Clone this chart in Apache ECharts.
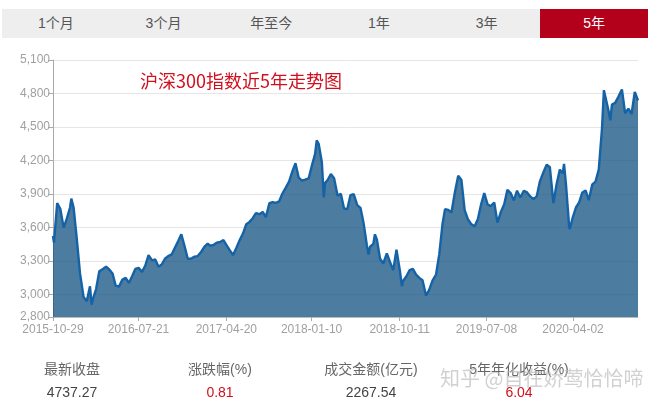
<!DOCTYPE html>
<html><head><meta charset="utf-8">
<script src="https://cdn.jsdelivr.net/npm/echarts@6/dist/echarts.min.js"></script>
<style>
html,body{margin:0;padding:0;background:#fff;width:652px;height:406px;overflow:hidden;font-family:"Liberation Sans","Noto Sans CJK SC",sans-serif;}
#chart{position:absolute;left:0;top:0;width:652px;height:406px;}
#tabs{position:absolute;left:2px;top:9px;width:646px;height:29px;background:#eeeeee;display:flex;z-index:2;}
.tab{flex:1;text-align:center;line-height:29px;font-size:14px;color:#555;}
.tab.on{background:#b3001b;color:#fff;}
.stat{position:absolute;width:150px;text-align:center;font-size:14px;line-height:18px;z-index:2;}
.lab{color:#666;top:360px;}
.val{color:#444;top:383px;}
.red{color:#d0101e;}
#wm{position:absolute;left:440px;top:366px;font-size:20px;line-height:24px;color:rgba(190,190,190,0.7);z-index:3;white-space:nowrap;font-family:"Noto Sans CJK SC",sans-serif;}
</style></head>
<body>
<div id="chart"></div>
<div id="tabs"></div>
<div id="stats"></div>
<div id="wm">知乎 @自在娇莺恰恰啼</div>
<script>
const tabNames = ['1个月','3个月','年至今','1年','3年','5年'];
const activeTab = '5年';
const statLabels = ['最新收盘','涨跌幅(%)','成交金额(亿元)','5年年化收益(%)'];
const statValues = ['4737.27','0.81','2267.54','6.04'];
const statRed = [false,true,false,true];
const statCenters = [72,220,371,519];
const chartTitle = '沪深300指数近5年走势图';
const xTickLabels = ['2015-10-29','2016-07-21','2017-04-20','2018-01-10','2018-10-11','2019-07-08','2020-04-02'];
const yTickValues = [2800,3000,3300,3600,3900,4200,4500,4800,5100];

const dates = [
'2015-10-29','2015-11-01','2015-11-11','2015-11-21','2015-12-01','2015-12-11','2015-12-21','2015-12-25',
'2016-01-01','2016-01-11','2016-01-21','2016-02-01','2016-02-11','2016-02-21','2016-02-26','2016-03-01','2016-03-11','2016-03-21',
'2016-04-01','2016-04-11','2016-04-21','2016-05-01','2016-05-11','2016-05-21','2016-06-01','2016-06-11','2016-06-21',
'2016-07-01','2016-07-11','2016-07-21','2016-08-01','2016-08-11','2016-08-21','2016-09-01','2016-09-11','2016-09-21',
'2016-10-01','2016-10-11','2016-10-21','2016-11-01','2016-11-11','2016-11-21','2016-12-01','2016-12-11','2016-12-21',
'2017-01-01','2017-01-11','2017-01-21','2017-02-01','2017-02-11','2017-02-21','2017-03-01','2017-03-11','2017-03-21',
'2017-04-01','2017-04-11','2017-04-21','2017-05-01','2017-05-11','2017-05-21','2017-06-01','2017-06-11','2017-06-21',
'2017-07-01','2017-07-11','2017-07-21','2017-08-01','2017-08-11','2017-08-21','2017-09-01','2017-09-11','2017-09-21',
'2017-10-01','2017-10-11','2017-10-21','2017-11-01','2017-11-11','2017-11-21','2017-12-01','2017-12-11','2017-12-21',
'2018-01-01','2018-01-11','2018-01-21','2018-01-26','2018-02-01','2018-02-11','2018-02-17','2018-02-21','2018-03-01','2018-03-11','2018-03-21',
'2018-04-01','2018-04-11','2018-04-21','2018-05-01','2018-05-11','2018-05-21','2018-06-01','2018-06-11','2018-06-21',
'2018-07-01','2018-07-06','2018-07-11','2018-07-21','2018-07-26','2018-08-01','2018-08-11','2018-08-21','2018-09-01','2018-09-11','2018-09-21',
'2018-10-01','2018-10-11','2018-10-18','2018-10-21','2018-11-01','2018-11-11','2018-11-21','2018-12-01','2018-12-11','2018-12-21',
'2019-01-01','2019-01-11','2019-01-21','2019-02-01','2019-02-11','2019-02-21','2019-03-01','2019-03-11','2019-03-21',
'2019-04-01','2019-04-11','2019-04-21','2019-05-01','2019-05-11','2019-05-21','2019-06-01','2019-06-11','2019-06-21',
'2019-07-01','2019-07-11','2019-07-21','2019-08-01','2019-08-11','2019-08-21','2019-09-01','2019-09-11','2019-09-21',
'2019-10-01','2019-10-11','2019-10-21','2019-11-01','2019-11-11','2019-11-21','2019-12-01','2019-12-11','2019-12-21',
'2020-01-01','2020-01-11','2020-01-21','2020-02-01','2020-02-11','2020-02-21','2020-03-01','2020-03-05','2020-03-11','2020-03-21','2020-03-23',
'2020-04-01','2020-04-11','2020-04-21','2020-05-01','2020-05-11','2020-05-21','2020-06-01','2020-06-11','2020-06-21',
'2020-07-01','2020-07-07','2020-07-11','2020-07-21','2020-07-27','2020-08-01','2020-08-11','2020-08-21',
'2020-09-01','2020-09-11','2020-09-21','2020-10-01','2020-10-11','2020-10-21'
];
const closes = [
3525,3465,3819,3765,3600,3680,3780,3860,
3780,3500,3190,2980,2940,3075,2910,2960,3050,3210,
3230,3250,3225,3190,3080,3072,3135,3150,3105,
3165,3230,3240,3204,3261,3354,3306,3315,3250,
3270,3321,3345,3360,3420,3477,3540,3435,3321,
3324,3340,3345,3384,3429,3456,3438,3444,3465,
3471,3489,3441,3396,3354,3417,3492,3549,3630,
3651,3684,3729,3720,3740,3695,3819,3828,3822,
3834,3903,3954,4011,4101,4176,4047,4020,4029,
4041,4155,4260,4380,4350,4185,3870,3999,4026,4080,4041,
3885,3903,3771,3765,3891,3900,3801,3777,3636,
3441,3360,3429,3453,3540,3495,3321,3279,3369,3291,3219,
3402,3225,3075,3120,3165,3219,3231,3180,3150,3129,
2991,3045,3126,3180,3360,3630,3765,3759,3735,
3921,4065,4026,3756,3675,3633,3612,3675,3807,
3909,3810,3792,3825,3645,3735,3810,3939,3909,
3843,3930,3870,3930,3915,3879,3855,3879,4014,
4095,4164,4140,3819,3990,4119,4086,4170,3990,3609,3585,
3690,3780,3825,3915,3933,3846,3987,4011,4119,
4485,4830,4821,4650,4560,4701,4716,4770,
4836,4623,4665,4617,4815,4737.27
];

// tabs
const tabsEl = document.getElementById('tabs');
tabNames.forEach(n => {
  const d = document.createElement('div');
  d.className = 'tab' + (n === activeTab ? ' on' : '');
  d.textContent = n;
  tabsEl.appendChild(d);
});
// stats
const statsEl = document.getElementById('stats');
statLabels.forEach((l, i) => {
  const a = document.createElement('div');
  a.className = 'stat lab';
  a.style.left = (statCenters[i] - 75) + 'px';
  a.textContent = l;
  statsEl.appendChild(a);
  const b = document.createElement('div');
  b.className = 'stat val' + (statRed[i] ? ' red' : '');
  b.style.left = (statCenters[i] - 75) + 'px';
  b.textContent = statValues[i];
  statsEl.appendChild(b);
});

const chart = echarts.init(document.getElementById('chart'), null, {renderer: 'canvas'});
const pd = s => echarts.number.parseDate(s).getTime();
const axisFont = {color: '#a0a0a0', fontSize: 12, fontFamily: 'Liberation Sans, Arial, sans-serif'};
chart.setOption({
  animation: false,
  title: {
    text: chartTitle, left: 135, top: 67,
    textStyle: {color: '#d0101e', fontSize: 18, fontWeight: 'normal', fontFamily: 'Noto Sans CJK SC, sans-serif'}
  },
  grid: {left: 53, right: 14, top: 60, bottom: 89, containLabel: false},
  xAxis: {
    type: 'value',
    min: pd(dates[0]), max: pd(dates[dates.length - 1]),
    axisLine: {show: true, lineStyle: {color: '#bbbbbb', width: 1}},
    axisTick: {show: true, length: 4, lineStyle: {color: '#aaaaaa'}, customValues: xTickLabels.map(pd)},
    axisLabel: {
      ...axisFont, margin: 7,
      customValues: xTickLabels.map(pd),
      formatter: v => echarts.time.format(v, '{yyyy}-{MM}-{dd}', false)
    },
    splitLine: {show: false}
  },
  yAxis: {
    type: 'value', min: 2800, max: 5100,
    axisLine: {show: true, lineStyle: {color: '#aaaaaa', width: 1}},
    axisTick: {show: true, length: 5, lineStyle: {color: '#aaaaaa'}, customValues: yTickValues},
    axisLabel: {
      ...axisFont, margin: 3,
      customValues: yTickValues,
      formatter: v => Number(v).toLocaleString('en-US')
    },
    splitLine: {show: true, lineStyle: {color: '#e6e6e6', width: 1}}
  },
  series: [{
    type: 'line',
    data: dates.map((d, i) => [pd(d), closes[i]]),
    showSymbol: false,
    smooth: false,
    lineStyle: {color: '#1563a6', width: 2.4},
    areaStyle: {color: 'rgb(16,80,128)', opacity: 0.75, origin: 'start'}
  }]
});
</script>
</body></html>
